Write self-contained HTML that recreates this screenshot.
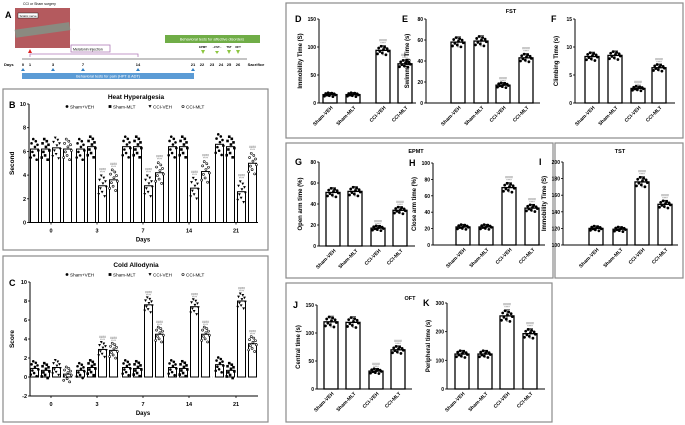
<!DOCTYPE html>
<html><head><meta charset="utf-8"><style>
html,body{margin:0;padding:0;background:#fff;}
svg{display:block;font-family:"Liberation Sans",Arial,sans-serif;}
</style></head><body>
<svg id="fig" width="685" height="425" viewBox="0 0 685 425" xmlns="http://www.w3.org/2000/svg">
<g>
  <text x="5" y="18" font-size="9" font-weight="bold">A</text>
  <text x="23" y="5" font-size="3.5">CCI or Sham surgery</text>
  <rect x="15" y="8" width="55" height="40" fill="#b45a5e"/>
  <rect x="15" y="26" width="55" height="8" fill="#8a8a80" transform="rotate(-8 42 30)"/>
  <rect x="18" y="13" width="20" height="5" fill="#fff" stroke="#000" stroke-width="0.4"/>
  <text x="19.5" y="16.8" font-size="3">Sciatic nerve</text>
  <path d="M30 49 L28 53 L32 53 Z" fill="#e02020"/>
  <rect x="71" y="45" width="39" height="7" fill="#fff" stroke="#b07ab8" stroke-width="0.8"/>
  <text x="73" y="50.5" font-size="3.6">Melatonin injection</text>
  <path d="M30 57 L30 54 L138 54 L138 57" fill="none" stroke="#b07ab8" stroke-width="0.8"/>
  <line x1="22" y1="59" x2="247" y2="59" stroke="#888" stroke-width="1"/>
  <text x="4" y="66" font-size="4" font-weight="bold">Days</text>
  <g font-size="4" font-weight="bold" text-anchor="middle">
    <text x="23" y="66">0</text><text x="30" y="66">1</text><text x="53" y="66">3</text><text x="83" y="66">7</text><text x="138" y="66">14</text><text x="193" y="66">21</text><text x="202" y="66">22</text><text x="212" y="66">23</text><text x="221" y="66">24</text><text x="229" y="66">25</text><text x="238" y="66">26</text><text x="256" y="66">Sacrifice</text>
  </g>
  <g fill="#2e7fc4">
    <path d="M23 68 L21 71 L25 71Z"/><path d="M53 68 L51 71 L55 71Z"/><path d="M83 68 L81 71 L85 71Z"/><path d="M138 68 L136 71 L140 71Z"/><path d="M193 68 L191 71 L195 71Z"/>
  </g>
  <rect x="22" y="73" width="172" height="6" fill="#5b9bd5"/>
  <text x="108" y="77.5" font-size="3.8" fill="#fff" text-anchor="middle">Behavioral tests for pain (HPT &amp; ADT)</text>
  <rect x="165" y="35" width="95" height="8" fill="#70ad47"/>
  <text x="212" y="40.5" font-size="3.8" fill="#fff" text-anchor="middle">Behavioral tests for affective disorders</text>
  <g font-size="2.8" font-weight="bold" text-anchor="middle">
    <text x="203" y="48">EPMT</text><text x="217" y="48">--FST--</text><text x="229" y="48">TST</text><text x="238" y="48">OFT</text>
  </g>
  <g fill="#8cc63f">
    <path d="M201 50 L205 50 L203 54Z"/><path d="M215 51 L219 51 L217 54Z"/><path d="M227 50 L231 50 L229 54Z"/><path d="M236 50 L240 50 L238 54Z"/>
  </g>
</g>

<g fill="none" stroke="#8a8a8a" stroke-width="1.2">
<rect x="3" y="89" width="265" height="161"/>
<rect x="3" y="256" width="265" height="166"/>
<rect x="286" y="3" width="397" height="135"/>
<rect x="286" y="143" width="267" height="135"/>
<rect x="555" y="143" width="128" height="135"/>
<rect x="286" y="283" width="266" height="139"/>
</g>

<text x="511" y="13" font-size="5.5" font-weight="bold" text-anchor="middle">FST</text>
<text x="416" y="153" font-size="5.5" font-weight="bold" text-anchor="middle">EPMT</text>
<text x="620" y="153" font-size="5.5" font-weight="bold" text-anchor="middle">TST</text>
<text x="410" y="300" font-size="5.5" font-weight="bold" text-anchor="middle">OFT</text>
</svg>
<script>
// ---- data ----
const timeDays = ["0","3","7","14","21"];
const groupNames = ["Sham-VEH","Sham-MLT","CCI-VEH","CCI-MLT"];
const legendNames = ["Sham+VEH","Sham-MLT","CCI-VEH","CCI-MLT"];
const heatShamVeh = [6.2,6.2,6.4,6.4,6.6];
const heatShamMlt = [6.2,6.4,6.4,6.4,6.4];
const heatCciVeh  = [6.3,3.1,3.1,2.9,2.6];
const heatCciMlt  = [6.2,3.6,4.2,4.3,5.0];
const coldShamVeh = [0.9,0.7,1.0,1.0,1.3];
const coldShamMlt = [0.7,1.0,0.9,0.9,0.7];
const coldCciVeh  = [1.0,2.9,7.6,7.4,8.0];
const coldCciMlt  = [0.3,2.8,4.5,4.5,3.5];
const heatTicks = [0,2,4,6,8,10];
const coldTicks = [-2,0,2,4,6,8,10];
const immobilityD = [15,15,94,70];
const swimmingE = [58,59,17,43];
const climbingF = [8.3,8.5,2.6,6.3];
const openArmG = [51,52,17,34];
const closeArmH = [22,22,70,45];
const immobilityI = [120,119,176,149];
const centralJ = [120,119,32,70];
const peripheralK = [122,122,255,193];
const dotSpread = [-0.12,0.08,-0.04,0.14,-0.09,0.03,0.11,-0.15,0.06,-0.02];

const NS="http://www.w3.org/2000/svg";
const svg=document.getElementById('fig');
function mk(tag,attrs,parent){const e=document.createElementNS(NS,tag);for(const k in attrs)e.setAttribute(k,attrs[k]);(parent||svg).appendChild(e);return e;}
function txt(s,attrs,parent){const e=mk('text',attrs,parent);e.textContent=s;return e;}
function marker(g,shape,x,y,r){
  if(shape===0) return mk('circle',{cx:x,cy:y,r:r,fill:'#000'},g);
  if(shape===1) return mk('rect',{x:x-r,y:y-r,width:2*r,height:2*r,fill:'#000'},g);
  if(shape===2) return mk('path',{d:`M${x-r*1.1} ${y-r} L${x+r*1.1} ${y-r} L${x} ${y+r}Z`,fill:'#000'},g);
  return mk('circle',{cx:x,cy:y,r:r*0.8,fill:'#fff',stroke:'#000','stroke-width':0.6},g);
}

// ---- small 4-bar panel ----
function barPanel(o){
  const g=mk('g',{});
  
  
  const y=v=>o.y0-(v-o.min)/(o.max-o.min)*(o.y0-o.yTop);
  const bw=14;
  const axis=mk('path',{d:`M${o.ax} ${o.yTop} L${o.ax} ${o.y0} L${o.axEnd} ${o.y0}`,fill:'none',stroke:'#000','stroke-width':1},g);
  
  o.ticks.forEach(t=>{
    mk('line',{x1:o.ax-2,x2:o.ax,y1:y(t),y2:y(t),stroke:'#000','stroke-width':0.8},g);
    const tl=txt(String(t),{x:o.ax-3,y:y(t)+2,'font-size':5,'text-anchor':'end','font-weight':'bold'},g);
    
  });
  const yl=txt(o.ylabel,{x:0,y:0,'font-size':6,'font-weight':'bold','text-anchor':'middle',transform:`translate(${o.ax-17},${(o.y0+o.yTop)/2}) rotate(-90)`},g);
  
  const lt=txt(o.letter,{x:o.ax-24,y:o.yTop+3,'font-size':9,'font-weight':'bold'},g);
  
  o.values.forEach((v,i)=>{
    const cx=o.centers[i];
    const b=mk('rect',{x:cx-bw/2,y:y(v),width:bw,height:o.y0-y(v),fill:'#fff',stroke:'#000','stroke-width':1.3},g);
    
    const sd=Math.abs(v-o.min)*0.06+(o.max-o.min)*0.02;
    mk('line',{x1:cx,x2:cx,y1:y(v+sd),y2:y(v-sd),stroke:'#000','stroke-width':0.6},g);
    mk('line',{x1:cx-3,x2:cx+3,y1:y(v+sd),y2:y(v+sd),stroke:'#000','stroke-width':0.6},g);
    dotSpread.forEach((d,k)=>{
      marker(g,0,cx-5.5+k*1.2,y(v+d*sd*6),1.4);
    });
    if(i>=2){
      const s=txt(i===2?'####':'####',{x:cx,y:y(v+sd*1.4)-2,'font-size':3.5,fill:'#777','text-anchor':'middle'},g);
      
      txt('****',{x:cx,y:y(v+sd*1.4)+1,'font-size':3.5,fill:'#777','text-anchor':'middle'},g);
    }
    const lb=txt(groupNames[i],{x:0,y:0,'font-size':5,'font-weight':'bold','text-anchor':'end',transform:`translate(${cx+3},${o.y0+5}) rotate(-45)`},g);
    
  });
  return g;
}
barPanel({name:'panel-d-immobility',letter:'D',ylabel:'Immobility Time (S)',ax:319,axEnd:416,y0:103,yTop:19,min:0,max:150,ticks:[0,50,100,150],centers:[330,353,383,405],values:immobilityD});
barPanel({name:'panel-e-swimming',letter:'E',ylabel:'Swimming Time (s)',ax:426,axEnd:540,y0:103,yTop:19,min:0,max:80,ticks:[0,20,40,60,80],centers:[458,481,503,526],values:swimmingE});
barPanel({name:'panel-f-climbing',letter:'F',ylabel:'Climbing Time (s)',ax:575,axEnd:675,y0:103,yTop:19,min:0,max:15,ticks:[0,5,10,15],centers:[592,615,638,659],values:climbingF});
barPanel({name:'panel-g-open-arm',letter:'G',ylabel:'Open arm time (%)',ax:319,axEnd:415,y0:246,yTop:162,min:0,max:80,ticks:[0,20,40,60,80],centers:[333,355,378,400],values:openArmG});
barPanel({name:'panel-h-close-arm',letter:'H',ylabel:'Close arm time (%)',ax:433,axEnd:545,y0:245,yTop:163,min:0,max:100,ticks:[0,20,40,60,80,100],centers:[463,486,509,532],values:closeArmH});
barPanel({name:'panel-i-tst',letter:'I',ylabel:'Immobility Time (S)',ax:563,axEnd:678,y0:245,yTop:162,min:100,max:200,ticks:[100,120,140,160,180,200],centers:[596,620,642,665],values:immobilityI});
barPanel({name:'panel-j-central',letter:'J',ylabel:'Central time (s)',ax:317,axEnd:412,y0:389,yTop:305,min:0,max:150,ticks:[0,50,100,150],centers:[331,353,376,398],values:centralJ});
barPanel({name:'panel-k-peripheral',letter:'K',ylabel:'Peripheral time (s)',ax:447,axEnd:545,y0:389,yTop:303,min:0,max:300,ticks:[0,100,200,300],centers:[462,485,507,530],values:peripheralK});

// ---- grouped time-course panels ----
function groupPanel(o){
  const g=mk('g',{});
  
  
  const y=v=>o.yBase-(v-o.min)/(o.max-o.min)*(o.yBase-o.yTop);
  const centers=[51,97,143,189,236];
  const xAt=(d,s)=>centers[d]+(s-1.5)*11;
  const ax=mk('path',{d:`M${o.ax} ${o.yTop} L${o.ax} ${o.yBase} L258 ${o.yBase}`,fill:'none',stroke:'#000','stroke-width':1},g);
  
  o.ticks.forEach(t=>{
    mk('line',{x1:o.ax-2,x2:o.ax,y1:y(t),y2:y(t),stroke:'#000','stroke-width':0.8},g);
    const tl=txt(String(t),{x:o.ax-3,y:y(t)+2,'font-size':5.5,'text-anchor':'end','font-weight':'bold'},g);
    
  });
  if(o.min<0){const zl=mk('line',{x1:o.ax,x2:258,y1:y(0),y2:y(0),stroke:'#aaa','stroke-width':0.6,'stroke-dasharray':'1,1'},g);}
  timeDays.forEach((d,i)=>{
    mk('line',{x1:centers[i],x2:centers[i],y1:o.yBase,y2:o.yBase+2,stroke:'#000','stroke-width':0.8},g);
    const t=txt(d,{x:centers[i],y:o.yBase+10,'font-size':5.5,'font-weight':'bold','text-anchor':'middle'},g);
    
  });
  const xt=txt('Days',{x:143,y:o.yBase+19,'font-size':6,'font-weight':'bold','text-anchor':'middle'},g);
  
  const yt=txt(o.ylabel,{x:0,y:0,'font-size':6.5,'font-weight':'bold','text-anchor':'middle',transform:`translate(14,${(o.yBase+o.yTop)/2}) rotate(-90)`},g);
  
  const tt=txt(o.title,{x:136,y:o.titleY,'font-size':6.5,'font-weight':'bold','text-anchor':'middle'},g);
  
  const lt=txt(o.letter,{x:9,y:o.yTop+4,'font-size':9,'font-weight':'bold'},g);
  
  const legX=[67,110,150,183];
  legendNames.forEach((n,s)=>{
    const lg=mk('g',{},g);
    
    
    marker(lg,s,legX[s],o.titleY+7.5,1.4);
    txt(n,{x:legX[s]+3,y:o.titleY+9.3,'font-size':4.6},lg);
  });
  const base=o.min<0?0:o.min;
  o.series.forEach((arr,s)=>{
    arr.forEach((v,d)=>{
      const cx=xAt(d,s);
      const b=mk('rect',{x:cx-4,y:Math.min(y(v),y(base)),width:8,height:Math.abs(y(base)-y(v)),fill:'#fff',stroke:'#000','stroke-width':1},g);
      
      dotSpread.forEach((dd,k)=>{
        marker(g,s,cx-3.8+k*0.85,y(v+dd*o.spread*6),1.3);
      });
      if(s>=2 && d>0){
        const sm=txt('####',{x:cx,y:y(v+o.spread*1.1)-2,'font-size':3.2,fill:'#777','text-anchor':'middle'},g);
        
        txt('****',{x:cx,y:y(v+o.spread*1.1)+1,'font-size':3.2,fill:'#777','text-anchor':'middle'},g);
      }
    });
  });
}
groupPanel({name:'panel-b-heat-hyperalgesia',letter:'B',title:'Heat Hyperalgesia',titleY:99,ylabel:'Second',ax:29,yBase:222.5,yTop:104,min:0,max:10,ticks:heatTicks,spread:1.0,series:[heatShamVeh,heatShamMlt,heatCciVeh,heatCciMlt]});
groupPanel({name:'panel-c-cold-allodynia',letter:'C',title:'Cold Allodynia',titleY:267,ylabel:'Score',ax:30,yBase:396,yTop:282,min:-2,max:10,ticks:coldTicks,spread:0.9,series:[coldShamVeh,coldShamMlt,coldCciVeh,coldCciMlt]});
</script>
</body></html>
